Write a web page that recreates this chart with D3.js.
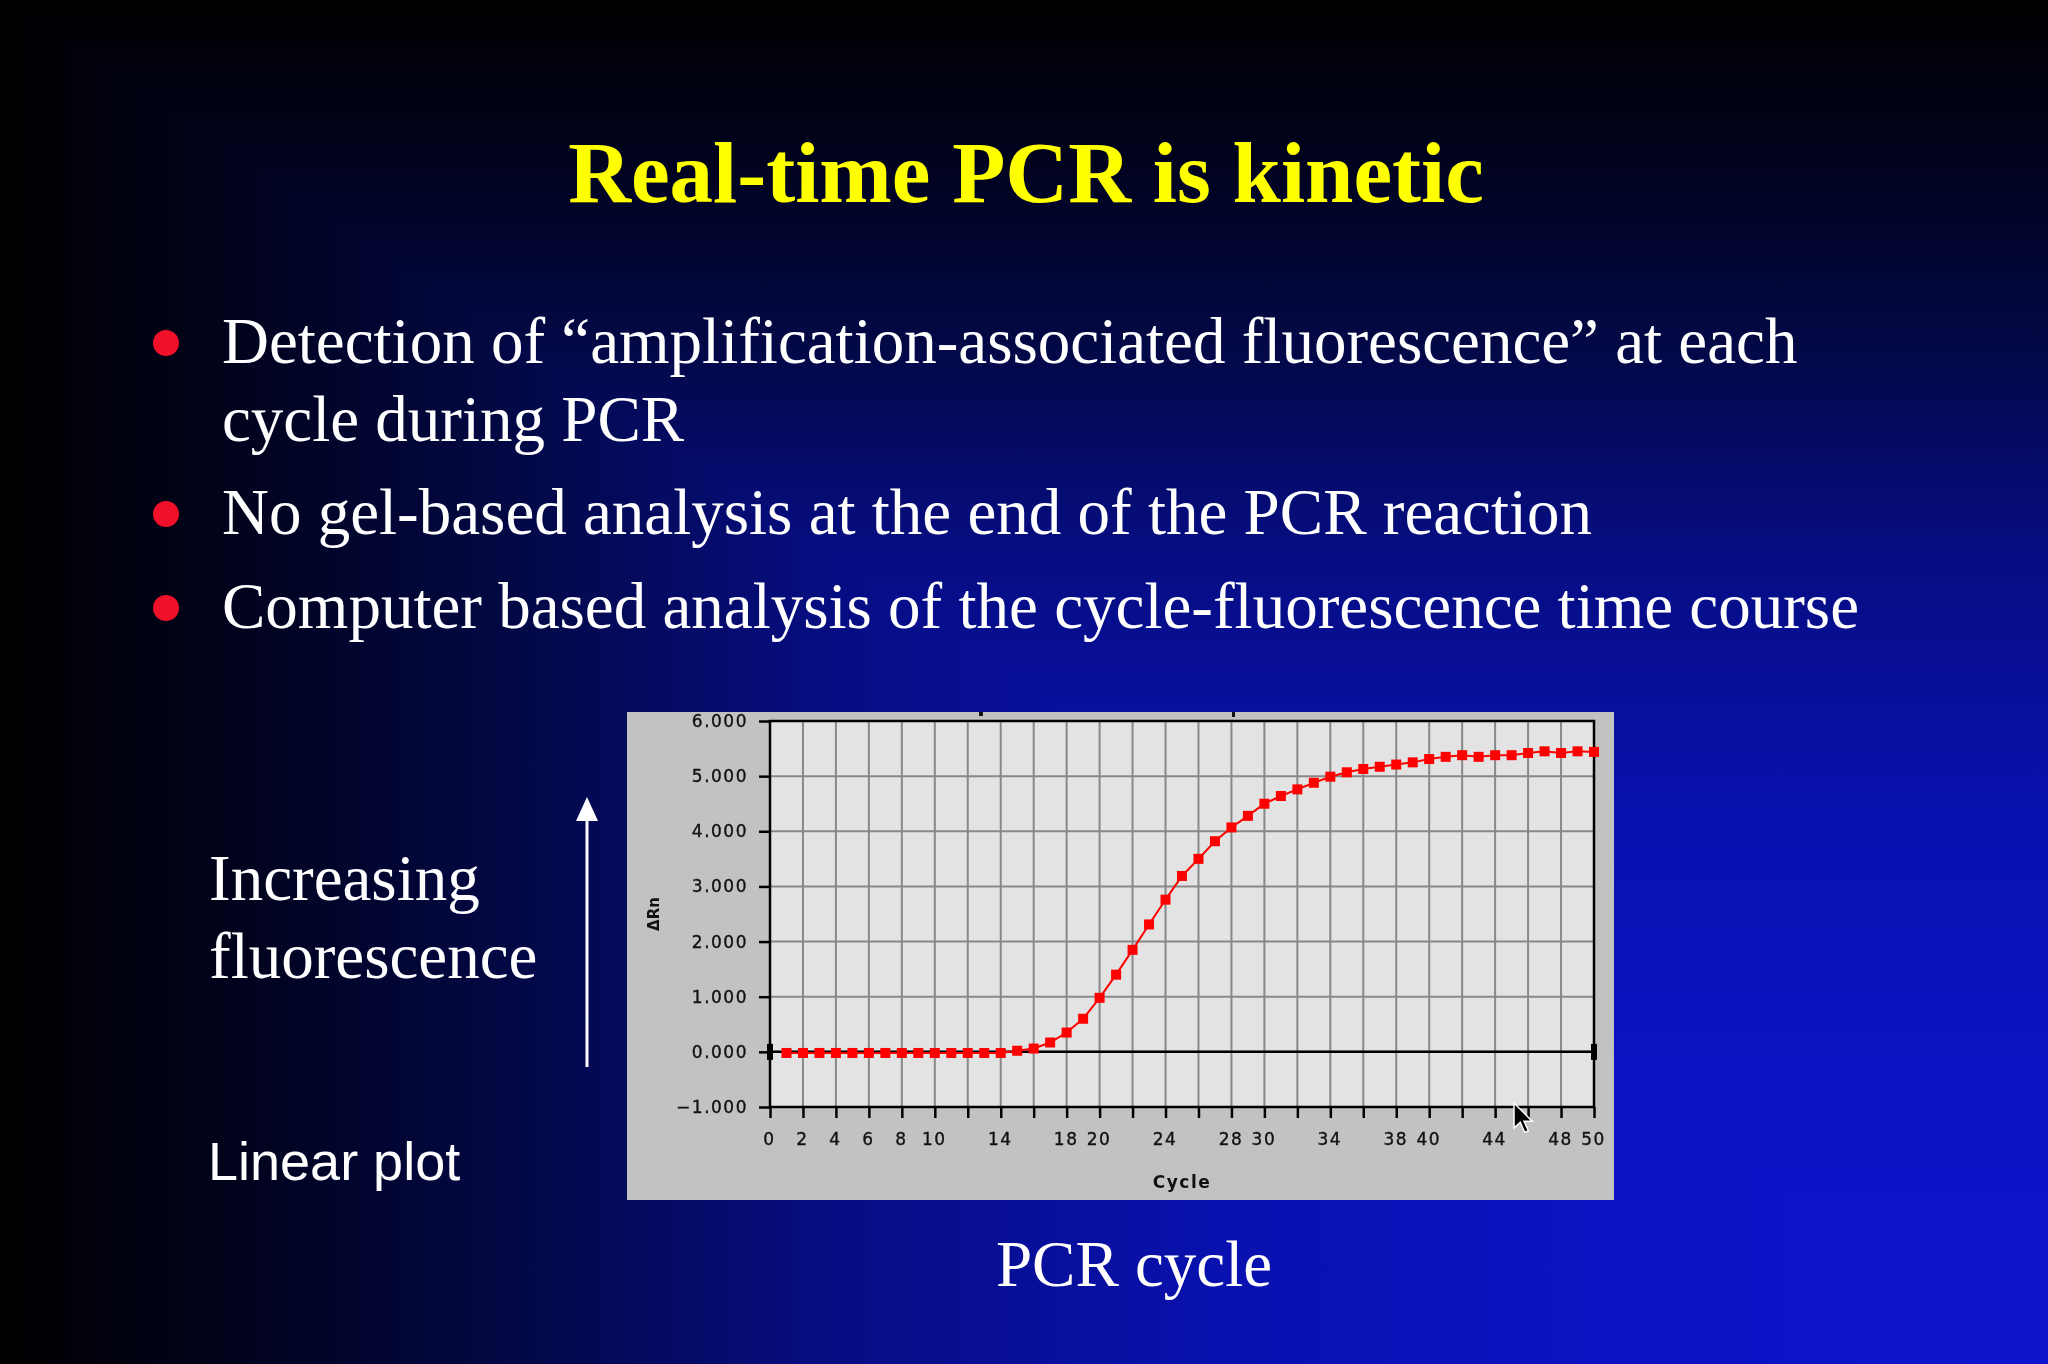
<!DOCTYPE html>
<html>
<head>
<meta charset="utf-8">
<script src="https://cdn.jsdelivr.net/npm/d3@7"></script>
<style>
  html, body { margin: 0; padding: 0; background: #000; }
  svg { display: block; }
  .serif { font-family: "Liberation Serif", "Times New Roman", serif; }
  .tick text { font-family: "DejaVu Sans", sans-serif; }
</style>
</head>
<body>
<svg id="slide" width="2048" height="1364"></svg>
<script>
// slide text
const title = 'Real-time PCR is kinetic';
const bullets = [
  ['Detection of \u201Camplification-associated fluorescence\u201D at each', 'cycle during PCR'],
  ['No gel-based analysis at the end of the PCR reaction'],
  ['Computer based analysis of the cycle-fluorescence time course']
];
const sideLabel = ['Increasing', 'fluorescence'];

// amplification curve (ΔRn per cycle)
const cycles = [1,2,3,4,5,6,7,8,9,10,11,12,13,14,15,16,17,18,19,20,
                21,22,23,24,25,26,27,28,29,30,31,32,33,34,35,36,37,38,39,40,
                41,42,43,44,45,46,47,48,49,50];
const deltaRn = [-0.02,-0.02,-0.02,-0.02,-0.02,-0.02,-0.02,-0.02,-0.02,-0.02,
                 -0.02,-0.02,-0.02,-0.02,0.02,0.06,0.17,0.35,0.60,0.98,
                 1.40,1.85,2.31,2.76,3.19,3.50,3.82,4.07,4.28,4.50,
                 4.64,4.76,4.88,4.99,5.07,5.13,5.17,5.21,5.25,5.31,
                 5.35,5.38,5.35,5.38,5.38,5.42,5.45,5.42,5.45,5.44];

const xTicks = [0,2,4,6,8,10,12,14,16,18,20,22,24,26,28,30,32,34,36,38,40,42,44,46,48,50];
const xTickLabels = [0,2,4,6,8,10,14,18,20,24,28,30,34,38,40,44,48,50];
const yTicks = [-1,0,1,2,3,4,5,6];

const svg = d3.select('#slide');
const W = 2048, H = 1364;

// background: dark corner top-left, bright blue bottom-right
const defs = svg.append('defs');
const ramp = [
  [0, '#000000'], [0.12, '#01031e'], [0.25, '#030845'], [0.4, '#060d80'],
  [0.6, '#0911b0'], [0.8, '#0b13c4'], [1, '#0c15cc']
];
const mkGrad = (id, x2, y2) => {
  const g = defs.append('linearGradient').attr('id', id)
    .attr('x1', 0).attr('y1', 0).attr('x2', x2).attr('y2', y2);
  ramp.forEach(([o, c]) => g.append('stop').attr('offset', o).attr('stop-color', c));
};
mkGrad('bgV', 0, 1);
mkGrad('bgH', 1, 0);
svg.append('rect').attr('width', W).attr('height', H).attr('fill', 'url(#bgV)');
svg.append('rect').attr('width', W).attr('height', H).attr('fill', 'url(#bgH)')
  .style('mix-blend-mode', 'darken');

// title
svg.append('text').attr('class', 'serif')
  .attr('x', 1026).attr('y', 202)
  .attr('text-anchor', 'middle')
  .attr('font-size', 87).attr('font-weight', 'bold')
  .attr('fill', '#ffff00')
  .text(title);

// bullets
const bulletY = [363, 534, 628];
bullets.forEach((lines, i) => {
  svg.append('circle')
    .attr('cx', 166).attr('cy', bulletY[i] - 20).attr('r', 13)
    .attr('fill', '#f0102a');
  lines.forEach((line, j) => {
    svg.append('text').attr('class', 'serif')
      .attr('x', 222).attr('y', bulletY[i] + j * 78)
      .attr('font-size', 65).attr('fill', '#fff')
      .text(line);
  });
});

// left annotation
sideLabel.forEach((s, i) => {
  svg.append('text').attr('class', 'serif')
    .attr('x', 209).attr('y', 900 + i * 78)
    .attr('font-size', 65).attr('fill', '#fff')
    .text(s);
});
svg.append('line')
  .attr('x1', 587).attr('x2', 587).attr('y1', 1067).attr('y2', 818)
  .attr('stroke', '#fff').attr('stroke-width', 3);
svg.append('path')
  .attr('d', 'M587,797 L598,821 L576,821 Z')
  .attr('fill', '#fff');

svg.append('text')
  .attr('x', 208).attr('y', 1180)
  .attr('font-family', '"Liberation Sans", Arial, sans-serif')
  .attr('font-size', 54).attr('fill', '#fff')
  .text('Linear plot');

svg.append('text').attr('class', 'serif')
  .attr('x', 1134).attr('y', 1286)
  .attr('text-anchor', 'middle')
  .attr('font-size', 65).attr('fill', '#fff')
  .text('PCR cycle');

// chart panel
svg.append('rect')
  .attr('x', 627).attr('y', 712).attr('width', 987).attr('height', 488)
  .attr('fill', '#c2c2c2');

const x = d3.scaleLinear().domain([0, 50]).range([770, 1594]);
const y = d3.scaleLinear().domain([-1, 6]).range([1107, 721]);

svg.append('rect')
  .attr('x', x(0)).attr('y', y(6))
  .attr('width', x(50) - x(0)).attr('height', y(-1) - y(6))
  .attr('fill', '#e3e3e3');

// grid
const grid = svg.append('g').attr('stroke', '#888').attr('stroke-width', 2);
grid.selectAll('line.v').data(xTicks.slice(1, -1)).join('line')
  .attr('x1', d => x(d)).attr('x2', d => x(d))
  .attr('y1', y(6)).attr('y2', y(-1));
grid.selectAll('line.h').data(yTicks.slice(1, -1)).join('line')
  .attr('x1', x(0)).attr('x2', x(50))
  .attr('y1', d => y(d)).attr('y2', d => y(d));

// axes
const styleAxis = g => {
  g.select('.domain').remove();
  g.selectAll('.tick line').attr('stroke', '#000').attr('stroke-width', 2.5);
  g.selectAll('.tick text')
    .attr('fill', '#111')
    .attr('stroke', '#111').attr('stroke-width', 0.35)
    .attr('font-size', 17)
    .style('letter-spacing', '1.5px');
};

svg.append('g')
  .attr('transform', `translate(${x(0)},0)`)
  .call(d3.axisLeft(y).tickValues(yTicks).tickFormat(d3.format('.3f'))
    .tickSize(11).tickPadding(11).tickSizeOuter(0))
  .call(styleAxis);

svg.append('g')
  .attr('transform', `translate(0,${y(-1)})`)
  .call(d3.axisBottom(x).tickValues(xTicks)
    .tickFormat(d => xTickLabels.includes(d) ? d : '')
    .tickSize(11).tickPadding(15).tickSizeOuter(0))
  .call(styleAxis)
  .selectAll('.tick text').attr('dx', '-1px');

// frame and baseline
svg.append('rect')
  .attr('x', x(0)).attr('y', y(6))
  .attr('width', x(50) - x(0)).attr('height', y(-1) - y(6))
  .attr('fill', 'none').attr('stroke', '#000').attr('stroke-width', 2.5);
svg.append('line')
  .attr('x1', x(0)).attr('x2', x(50)).attr('y1', y(0)).attr('y2', y(0))
  .attr('stroke', '#000').attr('stroke-width', 2.5);
[0, 50].forEach(c => {
  svg.append('rect')
    .attr('x', x(c) - 3).attr('y', y(0) - 8).attr('width', 6).attr('height', 16)
    .attr('fill', '#000');
});

// clipped chart title residue at top of panel
svg.append('rect').attr('x', 979).attr('y', 712).attr('width', 4).attr('height', 4).attr('fill', '#111');
svg.append('rect').attr('x', 1232).attr('y', 712).attr('width', 3).attr('height', 5).attr('fill', '#111');

// axis titles
svg.append('text')
  .attr('x', (x(0) + x(50)) / 2).attr('y', 1188)
  .attr('text-anchor', 'middle')
  .attr('font-family', '"DejaVu Sans", sans-serif')
  .attr('font-weight', 'bold').attr('font-size', 17)
  .style('letter-spacing', '1.5px')
  .attr('fill', '#111')
  .text('Cycle');
svg.append('text')
  .attr('transform', `translate(659,${(y(6) + y(-1)) / 2}) rotate(-90)`)
  .attr('text-anchor', 'middle')
  .attr('font-family', '"DejaVu Sans", sans-serif')
  .attr('font-weight', 'bold').attr('font-size', 15)
  .attr('fill', '#111')
  .text('\u0394Rn');

// amplification curve
const pts = cycles.map((c, i) => ({ c, v: deltaRn[i] }));
svg.append('path')
  .datum(pts)
  .attr('fill', 'none').attr('stroke', '#ff0000').attr('stroke-width', 2)
  .attr('d', d3.line().x(d => x(d.c)).y(d => y(d.v)));
svg.append('g').attr('fill', '#ff0000')
  .selectAll('rect').data(pts).join('rect')
  .attr('x', d => x(d.c) - 5).attr('y', d => y(d.v) - 5)
  .attr('width', 10).attr('height', 10);

// mouse pointer left on the screenshot
svg.append('path')
  .attr('transform', 'translate(1514,1103) scale(1.25)')
  .attr('d', 'M0,0 L0,20 L5,15.5 L8.5,23.5 L11.5,22.2 L8,14.5 L14.5,14.5 Z')
  .attr('fill', '#000').attr('stroke', '#fff').attr('stroke-width', 1.2);
</script>
</body>
</html>
